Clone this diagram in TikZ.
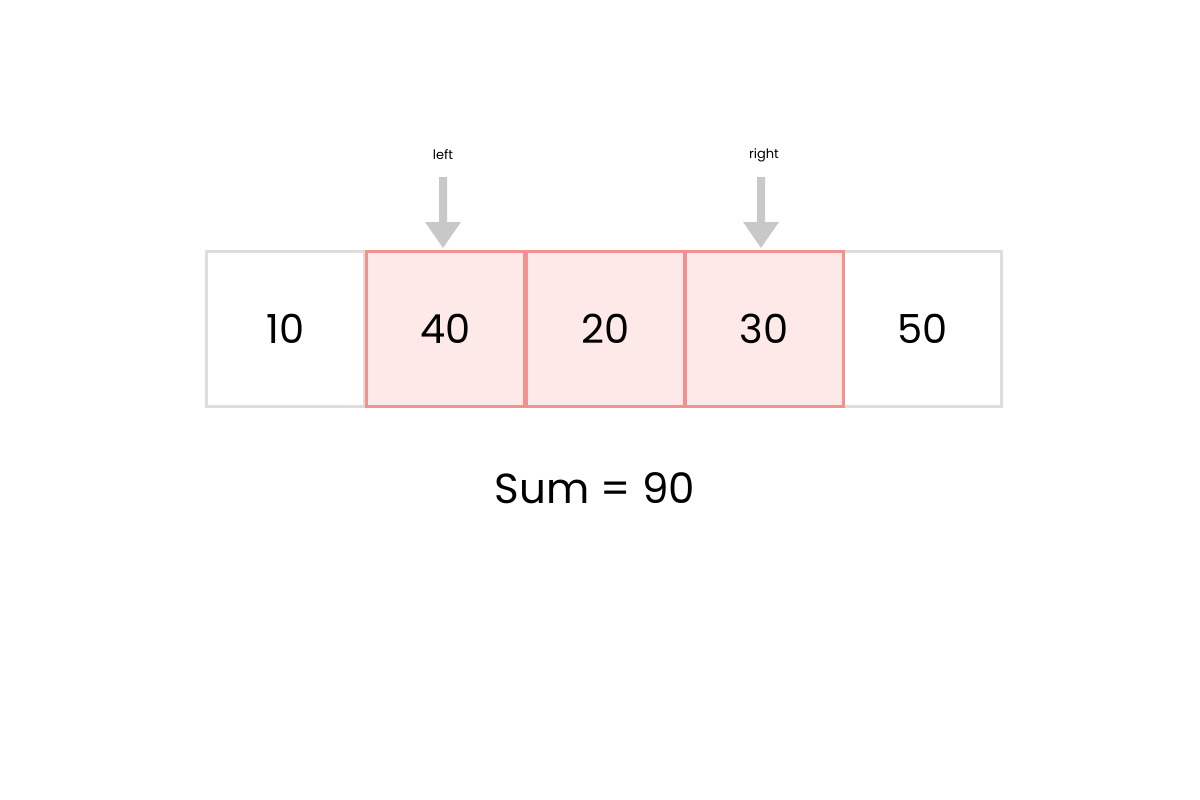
\documentclass[tikz,border=0pt]{standalone}
\usepackage{fontspec}
\setmainfont{Poppins}
\definecolor{pinkfill}{HTML}{FDE9E7}
\definecolor{pinkline}{HTML}{F2928F}
\definecolor{greyline}{HTML}{DDDDDD}
\definecolor{arrowgrey}{HTML}{C8C8C8}
\begin{document}
\begin{tikzpicture}[x=1pt,y=-1pt,
  cell/.style={draw=greyline,line width=2.5pt,minimum width=158pt,minimum height=155pt,inner sep=0pt,font=\fontsize{40}{40}\selectfont,anchor=north west},
  hot/.style={cell,draw=pinkline,fill=pinkfill},
  lab/.style={font=\fontsize{13}{13}\selectfont}]
\useasboundingbox (0,0) rectangle (1200,800);
\node[cell] (c1) at (205,250) {10};
\node[cell] (c5) at (842,250) {50};
\node[hot] (c2) at (365,250) {40};
\node[hot] (c3) at (525,250) {20};
\node[hot] (c4) at (684,250) {30};
\node[lab] (l) at (443,155) {left};
\node[lab] (r) at (764,155) {right};
\foreach \x in {443,761}{
  \fill[arrowgrey] (\x-4,177) -- (\x+4,177) -- (\x+4,222) -- (\x+18,222) -- (\x,248) -- (\x-18,222) -- (\x-4,222) -- cycle;}
\node[font=\fontsize{42}{42}\selectfont] (s) at (595,488) {Sum = 90};
\end{tikzpicture}
\end{document}
